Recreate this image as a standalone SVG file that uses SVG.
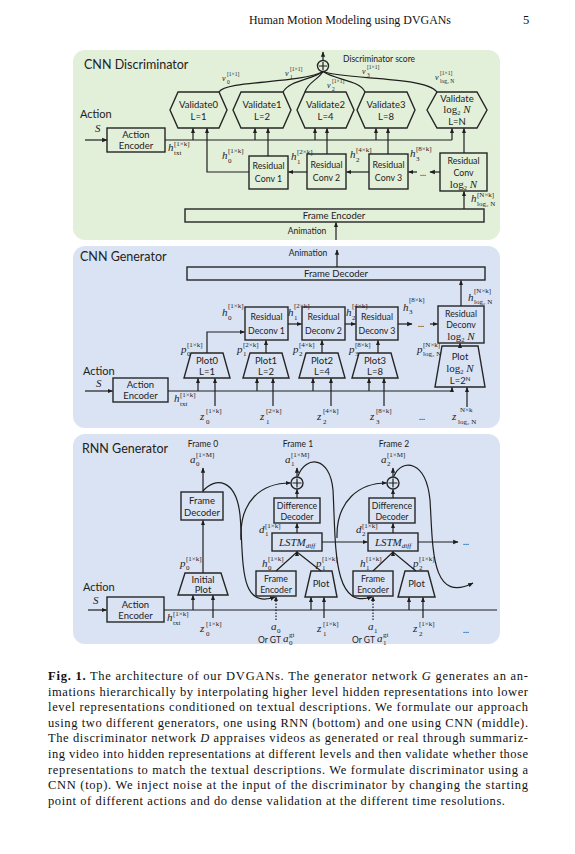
<svg xmlns="http://www.w3.org/2000/svg" width="575" height="854" viewBox="0 0 575 854">
<style>
.t{font-family:Lato,"Liberation Sans",sans-serif;fill:#222}
.ttl{font-size:12.5px}
.lb{font-size:11px}
.bx{font-size:9.5px;text-anchor:middle}
.bn{font-size:8.8px}
.sm{font-size:8.5px}
.m{font-family:"Liberation Serif",serif;font-style:italic;font-size:11px;fill:#222}
.mv{font-family:"Liberation Serif",serif;font-style:italic;font-size:8px;fill:#222}
.s{font-size:7px;font-style:normal}
.sv{font-size:5.5px;font-style:normal}
.mb{font-family:"Liberation Serif",serif;font-size:11px;fill:#222;text-anchor:middle}
.ln{fill:none;stroke:#1e1e1e;stroke-width:1.2}
.ar{fill:none;stroke:#1e1e1e;stroke-width:1.2;marker-end:url(#ah)}
.nd{fill:none;stroke:#262626;stroke-width:1.4}
.cap{font-family:"Liberation Serif",serif;font-size:12.5px;fill:#111}
</style>
<defs>
<marker id="ah" viewBox="0 0 10 10" refX="9" refY="5" markerWidth="4.5" markerHeight="4.5" orient="auto-start-reverse"><path d="M0,1 L10,5 L0,9 z" fill="#1e1e1e"/></marker>
</defs>
<rect width="575" height="854" fill="#fff"/>
<text class="cap" x="249" y="24" textLength="202" lengthAdjust="spacingAndGlyphs">Human Motion Modeling using DVGANs</text>
<text class="cap" x="523" y="24">5</text>

<!-- panels -->
<rect x="73" y="50" width="427" height="190" rx="12" fill="#e2efd9"/>
<rect x="73" y="246" width="427" height="182" rx="12" fill="#dae3f3"/>
<rect x="73" y="434" width="427" height="210" rx="12" fill="#dae3f3"/>

<!-- ===== CNN Discriminator ===== -->
<text class="t ttl" x="84" y="69">CNN Discriminator</text>
<text class="t sm" x="343" y="62">Discriminator score</text>
<text class="t lb" x="80" y="118">Action</text>
<text class="m" x="95" y="132">S</text>
<g id="d_sum"><circle cx="323" cy="66" r="5.5" class="nd"/><path d="M319,66 H327 M323,62 V70" class="ln"/></g>
<g id="d_v0"><polygon class="nd" points="170,110 178,92 219,92 227,110 219,128 178,128"/><text class="t bx" x="198.5" y="108">Validate0</text><text class="t bx" x="198.5" y="120">L=1</text></g>
<g id="d_v1"><polygon class="nd" points="233,110 241,92 283,92 291,110 283,128 241,128"/><text class="t bx" x="262" y="108">Validate1</text><text class="t bx" x="262" y="120">L=2</text></g>
<g id="d_v2"><polygon class="nd" points="297,110 305,92 346,92 354,110 346,128 305,128"/><text class="t bx" x="325.5" y="108">Validate2</text><text class="t bx" x="325.5" y="120">L=4</text></g>
<g id="d_v3"><polygon class="nd" points="357,110 365,92 407,92 415,110 407,128 365,128"/><text class="t bx" x="386" y="108">Validate3</text><text class="t bx" x="386" y="120">L=8</text></g>
<g id="d_vN"><polygon class="nd" points="427,110 437,92 477,92 487,110 477,128 437,128"/><text class="t bx" x="457" y="102">Validate</text><text class="mb" x="457" y="113">log<tspan dy="1.5" font-size="6.5">2</tspan><tspan dy="-1.5" font-style="italic"> N</tspan></text><text class="t bx" x="457" y="125">L=N</text></g>
<g id="d_ae"><rect class="nd" x="107" y="128" width="58" height="24"/><text class="t bx" x="136" y="138">Action</text><text class="t bx" x="136" y="149">Encoder</text></g>
<g id="d_rc1"><rect class="nd" x="249" y="156" width="39" height="33"/><text class="t bx bn" x="268.5" y="169">Residual</text><text class="t bx bn" x="268.5" y="182">Conv 1</text></g>
<g id="d_rc2"><rect class="nd" x="307" y="154" width="39" height="35"/><text class="t bx bn" x="326.5" y="168">Residual</text><text class="t bx bn" x="326.5" y="181">Conv 2</text></g>
<g id="d_rc3"><rect class="nd" x="369" y="154" width="39" height="35"/><text class="t bx bn" x="388.5" y="168">Residual</text><text class="t bx bn" x="388.5" y="181">Conv 3</text></g>
<g id="d_rcN"><rect class="nd" x="440" y="153" width="47" height="38"/><text class="t bx bn" x="463.5" y="164">Residual</text><text class="t bx bn" x="463.5" y="176">Conv</text><text class="mb" x="463.5" y="188">log<tspan dy="1.5" font-size="6.5">2</tspan><tspan dy="-1.5" font-style="italic"> N</tspan></text></g>
<g id="d_fe"><rect class="nd" x="185" y="209" width="299" height="13"/><text class="t bx" x="334" y="219">Frame Encoder</text></g>
<text class="t sm" x="307" y="234" text-anchor="middle">Animation</text>
<text class="t sm" x="423" y="176" text-anchor="middle">...</text>
<!-- labels -->
<text class="mv" x="222" y="81">v<tspan class="sv" x="227" y="76">[1×1]</tspan><tspan class="sv" x="227" y="84">0</tspan></text>
<text class="mv" x="285" y="76">v<tspan class="sv" x="290" y="71">[1×1]</tspan><tspan class="sv" x="290" y="79">1</tspan></text>
<text class="mv" x="327" y="88">v<tspan class="sv" x="332" y="83">[1×1]</tspan><tspan class="sv" x="332" y="91">2</tspan></text>
<text class="mv" x="362" y="74">v<tspan class="sv" x="367" y="69">[1×1]</tspan><tspan class="sv" x="367" y="77">3</tspan></text>
<text class="mv" x="435" y="80">v<tspan class="sv" x="440" y="75">[1×1]</tspan><tspan class="sv" x="440" y="83">log₂ N</tspan></text>
<text class="m" x="168" y="151">h<tspan class="s" x="174" y="146">[1×k]</tspan><tspan class="s" x="174" y="155">txt</tspan></text>
<text class="m" x="222" y="159">h<tspan class="s" x="228" y="153">[1×k]</tspan><tspan class="s" x="228" y="163">0</tspan></text>
<text class="m" x="291" y="160">h<tspan class="s" x="297" y="154">[2×k]</tspan><tspan class="s" x="297" y="164">1</tspan></text>
<text class="m" x="350" y="158">h<tspan class="s" x="356" y="152">[4×k]</tspan><tspan class="s" x="356" y="162">2</tspan></text>
<text class="m" x="410" y="157">h<tspan class="s" x="416" y="151">[8×k]</tspan><tspan class="s" x="416" y="161">3</tspan></text>
<text class="m" x="471" y="202">h<tspan class="s" x="477" y="197">[N×k]</tspan><tspan class="s" x="477" y="206">log₂ N</tspan></text>

<g id="d_conn">
<path class="ar" d="M323,60.5 V52"/>
<path class="ln" d="M219,92 C226,80 300,84 323,71.5"/>
<path class="ln" d="M283,92 C290,80 312,80 323,71.5"/>
<path class="ln" d="M305,92 C308,82 318,80 323,71.5"/>
<path class="ln" d="M365,92 C360,80 335,80 323,71.5"/>
<path class="ln" d="M437,92 C425,76 345,80 323,71.5"/>
<path class="ar" d="M85,140 H107"/>
<path class="ln" d="M165,140 H452"/>
<path class="ar" d="M193,140 V128.5"/><path class="ar" d="M255,140 V128.5"/><path class="ar" d="M315,140 V128.5"/><path class="ar" d="M376,140 V128.5"/><path class="ar" d="M452,140 V128.5"/>
<path class="ar" d="M249,172 H207 V128.5"/>
<path class="ar" d="M268,156 V128.5"/>
<path class="ar" d="M327,154 V128.5"/>
<path class="ar" d="M388,154 V128.5"/>
<path class="ar" d="M464,153 V128.5"/>
<path class="ar" d="M307,172 H288.5"/>
<path class="ar" d="M369,172 H346.5"/>
<path class="ar" d="M417,172 H408.5"/>
<path class="ar" d="M440,172 H430"/>
<path class="ar" d="M464,209 V191.5"/>
<path class="ar" d="M336,240 V222.5"/>
</g>

<!-- ===== CNN Generator ===== -->
<text class="t ttl" x="80" y="261">CNN Generator</text>
<text class="t sm" x="308" y="256" text-anchor="middle">Animation</text>
<text class="t lb" x="83" y="375">Action</text>
<text class="m" x="96" y="387">S</text>
<g id="g_fd"><rect class="nd" x="187" y="267" width="298" height="13"/><text class="t bx" x="336" y="277">Frame Decoder</text></g>
<g id="g_rd1"><rect class="nd" x="245" y="307" width="43" height="33"/><text class="t bx bn" x="266.5" y="320">Residual</text><text class="t bx bn" x="266.5" y="334">Deconv 1</text></g>
<g id="g_rd2"><rect class="nd" x="302" y="307" width="43" height="33"/><text class="t bx bn" x="323.5" y="320">Residual</text><text class="t bx bn" x="323.5" y="334">Deconv 2</text></g>
<g id="g_rd3"><rect class="nd" x="356" y="307" width="42" height="33"/><text class="t bx bn" x="377" y="320">Residual</text><text class="t bx bn" x="377" y="334">Deconv 3</text></g>
<g id="g_rdN"><rect class="nd" x="438" y="306" width="46" height="37"/><text class="t bx bn" x="461" y="317">Residual</text><text class="t bx bn" x="461" y="328">Deconv</text><text class="mb" x="461" y="340">log<tspan dy="1.5" font-size="6.5">2</tspan><tspan dy="-1.5" font-style="italic"> N</tspan></text></g>
<g id="g_p0"><polygon class="nd" points="191,353 223,353 230,378 184,378"/><text class="t bx" x="207" y="364">Plot0</text><text class="t bx" x="207" y="375">L=1</text></g>
<g id="g_p1"><polygon class="nd" points="250,353 282,353 289,378 243,378"/><text class="t bx" x="266" y="364">Plot1</text><text class="t bx" x="266" y="375">L=2</text></g>
<g id="g_p2"><polygon class="nd" points="306,353 338,353 345,378 299,378"/><text class="t bx" x="322" y="364">Plot2</text><text class="t bx" x="322" y="375">L=4</text></g>
<g id="g_p3"><polygon class="nd" points="359,353 391,353 398,378 352,378"/><text class="t bx" x="375" y="364">Plot3</text><text class="t bx" x="375" y="375">L=8</text></g>
<g id="g_pN"><polygon class="nd" points="442,346 478,346 485,387 435,387"/><text class="t bx" x="460" y="360">Plot</text><text class="mb" x="460" y="372">log<tspan dy="1.5" font-size="6.5">2</tspan><tspan dy="-1.5" font-style="italic"> N</tspan></text><text class="t bx" x="460" y="384">L=2<tspan dy="-3" font-size="6">N</tspan></text></g>
<g id="g_ae"><rect class="nd" x="113" y="378" width="55" height="24"/><text class="t bx" x="140.5" y="388">Action</text><text class="t bx" x="140.5" y="399">Encoder</text></g>
<text class="t sm" x="421" y="327" text-anchor="middle">...</text>
<text class="t sm" x="422" y="420" text-anchor="middle">...</text>
<!-- labels -->
<text class="m" x="222" y="316">h<tspan class="s" x="228" y="308">[1×k]</tspan><tspan class="s" x="228" y="320">0</tspan></text>
<text class="m" x="288" y="316">h<tspan class="s" x="294" y="308">[2×k]</tspan><tspan class="s" x="294" y="320">1</tspan></text>
<text class="m" x="346" y="316">h<tspan class="s" x="352" y="308">[4×k]</tspan><tspan class="s" x="352" y="320">2</tspan></text>
<text class="m" x="403" y="311">h<tspan class="s" x="409" y="302">[8×k]</tspan><tspan class="s" x="409" y="314">3</tspan></text>
<text class="m" x="468" y="301">h<tspan class="s" x="474" y="293">[N×k]</tspan><tspan class="s" x="474" y="304">log₂ N</tspan></text>
<text class="m" x="181" y="353">p<tspan class="s" x="187" y="347">[1×k]</tspan><tspan class="s" x="187" y="356">0</tspan></text>
<text class="m" x="237" y="353">p<tspan class="s" x="243" y="347">[2×k]</tspan><tspan class="s" x="243" y="356">1</tspan></text>
<text class="m" x="293" y="353">p<tspan class="s" x="299" y="347">[4×k]</tspan><tspan class="s" x="299" y="356">2</tspan></text>
<text class="m" x="349" y="353">p<tspan class="s" x="355" y="347">[8×k]</tspan><tspan class="s" x="355" y="356">3</tspan></text>
<text class="m" x="417" y="353">p<tspan class="s" x="423" y="347">[N×k]</tspan><tspan class="s" x="423" y="356">log₂ N</tspan></text>
<text class="m" x="174" y="402">h<tspan class="s" x="180" y="397">[1×k]</tspan><tspan class="s" x="180" y="406">txt</tspan></text>
<text class="m" x="200" y="420">z<tspan class="s" x="206" y="413" font-size="8.5">[1×k]</tspan><tspan class="s" x="206" y="424">0</tspan></text>
<text class="m" x="260" y="420">z<tspan class="s" x="266" y="413" font-size="8.5">[2×k]</tspan><tspan class="s" x="266" y="424">1</tspan></text>
<text class="m" x="317" y="420">z<tspan class="s" x="323" y="413" font-size="8.5">[4×k]</tspan><tspan class="s" x="323" y="424">2</tspan></text>
<text class="m" x="370" y="420">z<tspan class="s" x="376" y="413" font-size="8.5">[8×k]</tspan><tspan class="s" x="376" y="424">3</tspan></text>
<text class="m" x="452" y="420">z<tspan class="s" x="460" y="412" font-size="8.5">N×k</tspan><tspan class="s" x="458" y="424">log₂ N</tspan></text>

<g id="g_conn">
<path class="ar" d="M337,267 V250"/>
<path class="ar" d="M461,306 V280.5"/>
<path class="ar" d="M207,353 V332 H244.5"/>
<path class="ar" d="M288,324 H301.5"/>
<path class="ar" d="M345,324 H355.5"/>
<path class="ar" d="M398,324 H412"/>
<path class="ar" d="M430,324 H437.5"/>
<path class="ar" d="M266,353 V340.5"/>
<path class="ar" d="M322,353 V340.5"/>
<path class="ar" d="M378,353 V340.5"/>
<path class="ar" d="M460,346 V343.5"/>
<path class="ar" d="M85,391 H112.5"/>
<path class="ln" d="M168,391 H452"/>
<path class="ar" d="M198,391 V378.5"/><path class="ar" d="M257,391 V378.5"/><path class="ar" d="M313,391 V378.5"/><path class="ar" d="M369,391 V378.5"/><path class="ar" d="M452,391 V387.5"/>
<path class="ar" d="M215,406 V378.5"/><path class="ar" d="M273,406 V378.5"/><path class="ar" d="M331,406 V378.5"/><path class="ar" d="M384,406 V378.5"/><path class="ar" d="M467,407 V387.5"/>
</g>

<!-- ===== RNN Generator ===== -->
<text class="t ttl" x="82" y="453">RNN Generator</text>
<text class="t sm" x="203" y="447" text-anchor="middle">Frame 0</text>
<text class="t sm" x="298" y="447" text-anchor="middle">Frame 1</text>
<text class="t sm" x="394" y="447" text-anchor="middle">Frame 2</text>
<text class="t lb" x="83" y="591">Action</text>
<text class="m" x="93" y="604">S</text>
<g id="r_fd"><rect class="nd" x="181" y="492" width="42" height="28"/><text class="t bx" x="202" y="504">Frame</text><text class="t bx" x="202" y="516">Decoder</text></g>
<g id="r_ip"><polygon class="nd" points="185,573 221,573 228,595 178,595"/><text class="t bx" x="203" y="583">Initial</text><text class="t bx" x="203" y="593">Plot</text></g>
<g id="r_ae"><rect class="nd" x="107" y="597" width="57" height="25"/><text class="t bx" x="135.5" y="608">Action</text><text class="t bx" x="135.5" y="619">Encoder</text></g>
<g id="r_sum1"><circle cx="297" cy="483" r="6" class="nd"/><path d="M292.5,483 H301.5 M297,478.5 V487.5" class="ln"/></g>
<g id="r_dd1"><rect class="nd" x="274" y="498" width="46" height="25"/><text class="t bx bn" x="297" y="509">Difference</text><text class="t bx bn" x="297" y="520">Decoder</text></g>
<g id="r_lstm1"><rect class="nd" x="272" y="533" width="50" height="18"/><text class="m" x="297" y="546" text-anchor="middle" font-size="10">LSTM<tspan font-size="7" dy="2">diff</tspan></text></g>
<g id="r_fe1"><rect class="nd" x="256" y="571" width="40" height="25"/><text class="t bx bn" x="276" y="582">Frame</text><text class="t bx bn" x="276" y="593">Encoder</text></g>
<g id="r_pl1"><polygon class="nd" points="311,571 332,571 337,597 305,597"/><text class="t bx" x="321" y="587">Plot</text></g>
<g id="r_sum2"><circle cx="393" cy="483" r="6" class="nd"/><path d="M388.5,483 H397.5 M393,478.5 V487.5" class="ln"/></g>
<g id="r_dd2"><rect class="nd" x="369" y="498" width="46" height="25"/><text class="t bx bn" x="392" y="509">Difference</text><text class="t bx bn" x="392" y="520">Decoder</text></g>
<g id="r_lstm2"><rect class="nd" x="368" y="533" width="50" height="18"/><text class="m" x="393" y="546" text-anchor="middle" font-size="10">LSTM<tspan font-size="7" dy="2">diff</tspan></text></g>
<g id="r_fe2"><rect class="nd" x="353" y="571" width="40" height="25"/><text class="t bx bn" x="373" y="582">Frame</text><text class="t bx bn" x="373" y="593">Encoder</text></g>
<g id="r_pl2"><polygon class="nd" points="405,571 428,571 435,597 398,597"/><text class="t bx" x="416.5" y="587">Plot</text></g>
<text class="t sm" x="466" y="545" text-anchor="middle">...</text>
<text class="t sm" x="466" y="633" text-anchor="middle">...</text>
<!-- labels -->
<text class="m" x="190" y="463">a<tspan class="s" x="196" y="457">[1×M]</tspan><tspan class="s" x="196" y="466">0</tspan></text>
<text class="m" x="285" y="463">a<tspan class="s" x="291" y="457">[1×M]</tspan><tspan class="s" x="291" y="466">1</tspan></text>
<text class="m" x="381" y="463">a<tspan class="s" x="387" y="457">[1×M]</tspan><tspan class="s" x="387" y="466">2</tspan></text>
<text class="m" x="259" y="533">d<tspan class="s" x="265" y="528">[1×k]</tspan><tspan class="s" x="265" y="536">1</tspan></text>
<text class="m" x="356" y="533">d<tspan class="s" x="362" y="528">[1×k]</tspan><tspan class="s" x="362" y="536">2</tspan></text>
<text class="m" x="180" y="567">p<tspan class="s" x="186" y="561">[1×k]</tspan><tspan class="s" x="186" y="570">0</tspan></text>
<text class="m" x="262" y="567">h<tspan class="s" x="268" y="561">[1×k]</tspan><tspan class="s" x="268" y="570">0</tspan></text>
<text class="m" x="316" y="567">p<tspan class="s" x="322" y="561">[1×k]</tspan><tspan class="s" x="322" y="570">1</tspan></text>
<text class="m" x="360" y="567">h<tspan class="s" x="366" y="561">[1×k]</tspan><tspan class="s" x="366" y="570">1</tspan></text>
<text class="m" x="413" y="567">p<tspan class="s" x="419" y="561">[1×k]</tspan><tspan class="s" x="419" y="570">2</tspan></text>
<text class="m" x="167" y="621">h<tspan class="s" x="173" y="616">[1×k]</tspan><tspan class="s" x="173" y="625">txt</tspan></text>
<text class="m" x="200" y="632">z<tspan class="s" x="206" y="626" font-size="8.5">[1×k]</tspan><tspan class="s" x="206" y="636">0</tspan></text>
<text class="m" x="317" y="632">z<tspan class="s" x="323" y="626" font-size="8.5">[1×k]</tspan><tspan class="s" x="323" y="636">1</tspan></text>
<text class="m" x="413" y="632">z<tspan class="s" x="419" y="626" font-size="8.5">[1×k]</tspan><tspan class="s" x="419" y="636">2</tspan></text>
<text class="m" x="271" y="630">a<tspan class="s" x="277" y="633">0</tspan></text>
<text class="m" x="368" y="630">a<tspan class="s" x="374" y="633">1</tspan></text>
<text class="t sm" x="258" y="643">Or GT</text>
<text class="m" x="283" y="642">a<tspan class="s" x="289" y="637">gt</tspan><tspan class="s" x="289" y="645">0</tspan></text>
<text class="t sm" x="352" y="643">Or GT</text>
<text class="m" x="377" y="642">a<tspan class="s" x="383" y="637">gt</tspan><tspan class="s" x="383" y="645">1</tspan></text>

<g id="r_conn">
<path class="ar" d="M203,492 V468"/>
<path class="ar" d="M203,573 V520.5"/>
<path class="ar" d="M297,477 V468"/>
<path class="ar" d="M297,498 V489.5"/>
<path class="ar" d="M297,533 V523.5"/>
<path class="ar" d="M393,477 V468"/>
<path class="ar" d="M393,498 V489.5"/>
<path class="ar" d="M393,533 V523.5"/>
<path class="ar" d="M322,542 H367.5"/>
<path class="ar" d="M418,542 H458"/>
<path class="ln" d="M276,571 L297,552 L321,571"/>
<path class="ar" d="M297,553 V551.5"/>
<path class="ln" d="M373,571 L393,552 L416,571"/>
<path class="ar" d="M393,553 V551.5"/>
<path class="ar" d="M88,610 H106.5"/>
<path class="ln" d="M164,610 H497"/>
<path class="ar" d="M193,610 V595.5"/><path class="ar" d="M213,618 V595.5"/>
<path class="ar" d="M311,610 V597.5"/><path class="ar" d="M324,618 V597.5"/>
<path class="ar" d="M409,610 V597.5"/><path class="ar" d="M423,618 V597.5"/>
<path class="ar" d="M276,620 V596.5" stroke-dasharray="1.5,1.5"/>
<path class="ar" d="M373,620 V596.5" stroke-dasharray="1.5,1.5"/>
<path class="ar" d="M203,491 C215,477 236,478 240,515 C244,560 238,610 275,597"/>
<path class="ar" d="M241,540 C239,500 262,483 290.5,483"/>
<path class="ar" d="M298,476 C306,455 330,456 333,490 C336,545 332,610 372,597"/>
<path class="ar" d="M337,538 C336,500 360,483 386.5,483"/>
<path class="ar" d="M394,476 C402,458 426,460 430,500 C433,545 430,605 473,583"/>
</g>

<!-- caption -->
<g id="caption">
<text class="cap" x="48" y="680" textLength="480" lengthAdjust="spacing"><tspan font-weight="bold">Fig. 1.</tspan> The architecture of our DVGANs. The generator network <tspan font-style="italic">G</tspan> generates an an-</text>
<text class="cap" x="48" y="695.6" textLength="480" lengthAdjust="spacing">imations hierarchically by interpolating higher level hidden representations into lower</text>
<text class="cap" x="48" y="711.2" textLength="480" lengthAdjust="spacing">level representations conditioned on textual descriptions. We formulate our approach</text>
<text class="cap" x="48" y="726.8" textLength="480" lengthAdjust="spacing">using two different generators, one using RNN (bottom) and one using CNN (middle).</text>
<text class="cap" x="48" y="742.4" textLength="480" lengthAdjust="spacing">The discriminator network <tspan font-style="italic">D</tspan> appraises videos as generated or real through summariz-</text>
<text class="cap" x="48" y="758" textLength="480" lengthAdjust="spacing">ing video into hidden representations at different levels and then validate whether those</text>
<text class="cap" x="48" y="773.6" textLength="480" lengthAdjust="spacing">representations to match the textual descriptions. We formulate discriminator using a</text>
<text class="cap" x="48" y="789.2" textLength="480" lengthAdjust="spacing">CNN (top). We inject noise at the input of the discriminator by changing the starting</text>
<text class="cap" x="48" y="804.8" textLength="457" lengthAdjust="spacing">point of different actions and do dense validation at the different time resolutions.</text>
</g>
</svg>
